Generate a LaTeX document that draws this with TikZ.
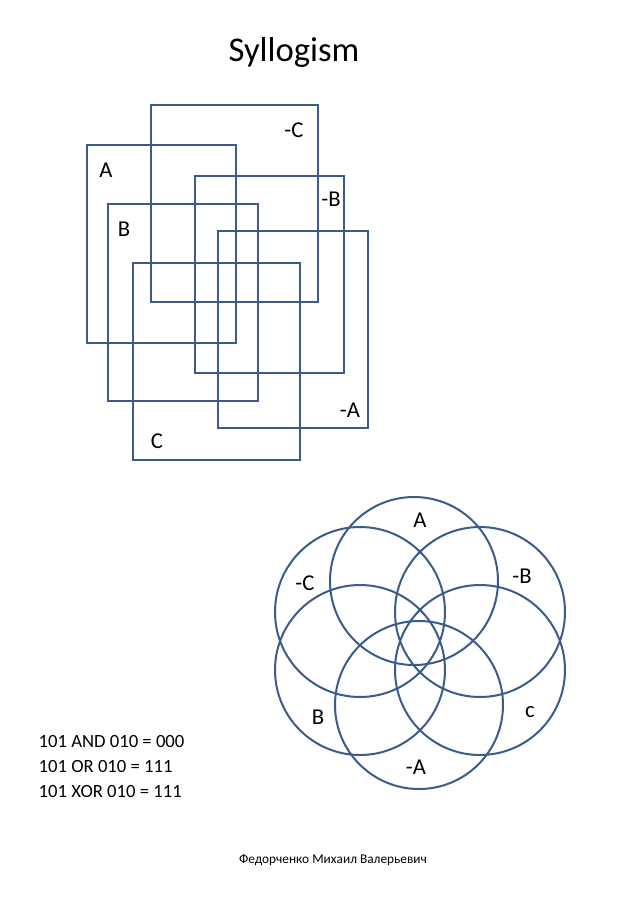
\documentclass[tikz,border=0pt]{standalone}
\usepackage{fontspec}
\setmainfont{Carlito}
\definecolor{ln}{HTML}{3B5B8C}
\begin{document}
\begin{tikzpicture}[x=0.75pt,y=-0.75pt,
  shp/.style={draw=ln,line width=1.5pt},
  lbl/.style={font=\fontsize{17}{20}\selectfont},
  eq/.style={font=\fontsize{14}{17}\selectfont,anchor=west}]
\useasboundingbox[fill=white] (0,0) rectangle (638,922);
\node[font=\fontsize{26}{30}\selectfont] (title) at (294,52) {Syllogism};
% rectangles
\draw[shp] (151,105) rectangle (318,302);
\draw[shp] (87,145) rectangle (236,343);
\draw[shp] (195,176) rectangle (344,373);
\draw[shp] (108,204) rectangle (258,401);
\draw[shp] (218,231) rectangle (368,428);
\draw[shp] (133,263) rectangle (300,460);
\node[lbl] (rnc) at (294,130) {-C};
\node[lbl] (ra) at (106,170) {A};
\node[lbl] (rnb) at (331,199) {-B};
\node[lbl] (rb) at (124,229) {B};
\node[lbl] (rna) at (350,410) {-A};
\node[lbl] (rc) at (157,441) {C};
% circles
\draw[shp] (414,581) circle (84);
\draw[shp] (360,612) circle (85);
\draw[shp] (480,612) circle (85);
\draw[shp] (360,670) circle (85);
\draw[shp] (480,670) circle (85);
\draw[shp] (419,705) circle (84);
\node[lbl] (ca) at (420,520) {A};
\node[lbl] (cnc) at (305,583) {-C};
\node[lbl] (cnb) at (522,576) {-B};
\node[lbl] (cb) at (318,717) {B};
\node[lbl] (cc) at (530,712) {c};
\node[lbl] (cna) at (416,767) {-A};
\node[eq] (e1) at (34,741) {101 AND 010 = 000};
\node[eq] (e2) at (34,766) {101 OR 010 = 111};
\node[eq] (e3) at (34,791) {101 XOR 010 = 111};
\node[font=\fontsize{10}{12}\selectfont] (ft) at (333,860) {Федорченко Михаил Валерьевич};
\end{tikzpicture}
\end{document}
